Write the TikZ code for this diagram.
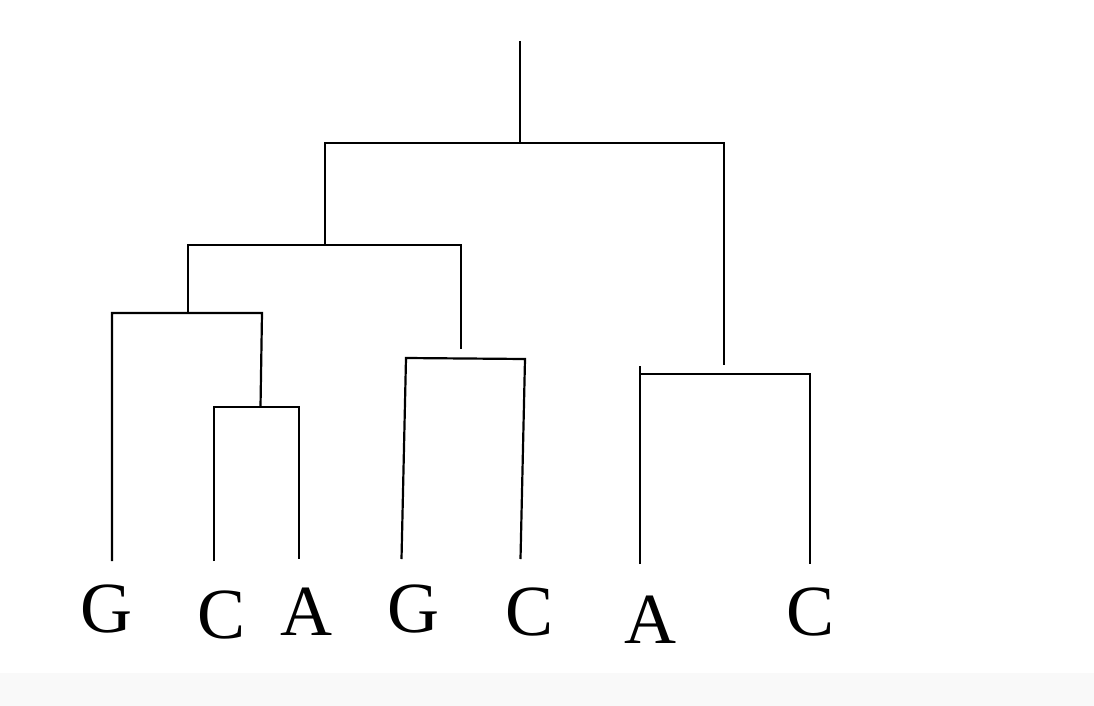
\documentclass[tikz,border=0pt]{standalone}
\usepackage{fontspec}
\setmainfont{Liberation Serif}
\definecolor{bandgray}{HTML}{F9F9F9}
\begin{document}
\begin{tikzpicture}[x=1pt,y=-1pt,
  branch/.style={line width=2.2pt,line cap=butt,line join=miter},
  leaf/.style={font=\fontsize{72}{72}\selectfont,anchor=base,inner sep=0pt}]
\useasboundingbox (0,0) rectangle (1094,706);
\fill[white] (0,0) rectangle (1094,673);
\fill[bandgray] (0,673) rectangle (1094,706);
% leaves
\node[leaf] (l1) at (106,632) {G};
\node[leaf] (l2) at (222,638) {C};
\node[leaf] (l3) at (306,635) {A};
\node[leaf] (l4) at (413,632) {G};
\node[leaf] (l5) at (530,635) {C};
\node[leaf] (l6) at (650,643) {A};
\node[leaf] (l7) at (810,635) {C};
% coordinates
\coordinate (root) at (520,41);
\coordinate (top) at (520,143);
\coordinate (topL) at (325,143);
\coordinate (topR) at (724,143);
\coordinate (lA) at (325,245);
\coordinate (lAL) at (188,245);
\coordinate (lAR) at (461,245);
\coordinate (gcStub) at (461,349);
\coordinate (lB) at (188,313);
\coordinate (lBL) at (112,313);
\coordinate (lBR) at (262,313);
\coordinate (caTop) at (260.5,407);
\coordinate (caL) at (214,407);
\coordinate (caR) at (299,407);
\coordinate (gcL) at (406,358);
\coordinate (gcR) at (525,359);
\coordinate (acStub) at (724,365);
\coordinate (acL0) at (640,366);
\coordinate (acL) at (640,374);
\coordinate (acR) at (810,374);
\coordinate (e1) at (112,561);
\coordinate (e2) at (214,561);
\coordinate (e3) at (299,559);
\coordinate (e4) at (401.5,559);
\coordinate (e5) at (520.5,559);
\coordinate (e6) at (640,564);
\coordinate (e7) at (810,564);
% tree
\draw[branch] (root) -- (top);
\draw[branch] (lA) -- (topL) -- (topR) -- (acStub);
\draw[branch] (lB) -- (lAL) -- (lAR) -- (gcStub);
\draw[branch] (e1) -- (lBL) -- (lBR) -- (caTop);
\draw[branch] (e2) -- (caL) -- (caR) -- (e3);
\draw[branch] (e4) -- (gcL) -- (gcR) -- (e5);
\draw[branch] (e6) -- (acL0);
\draw[branch] (acL) -- (acR) -- (e7);
\end{tikzpicture}
\end{document}
